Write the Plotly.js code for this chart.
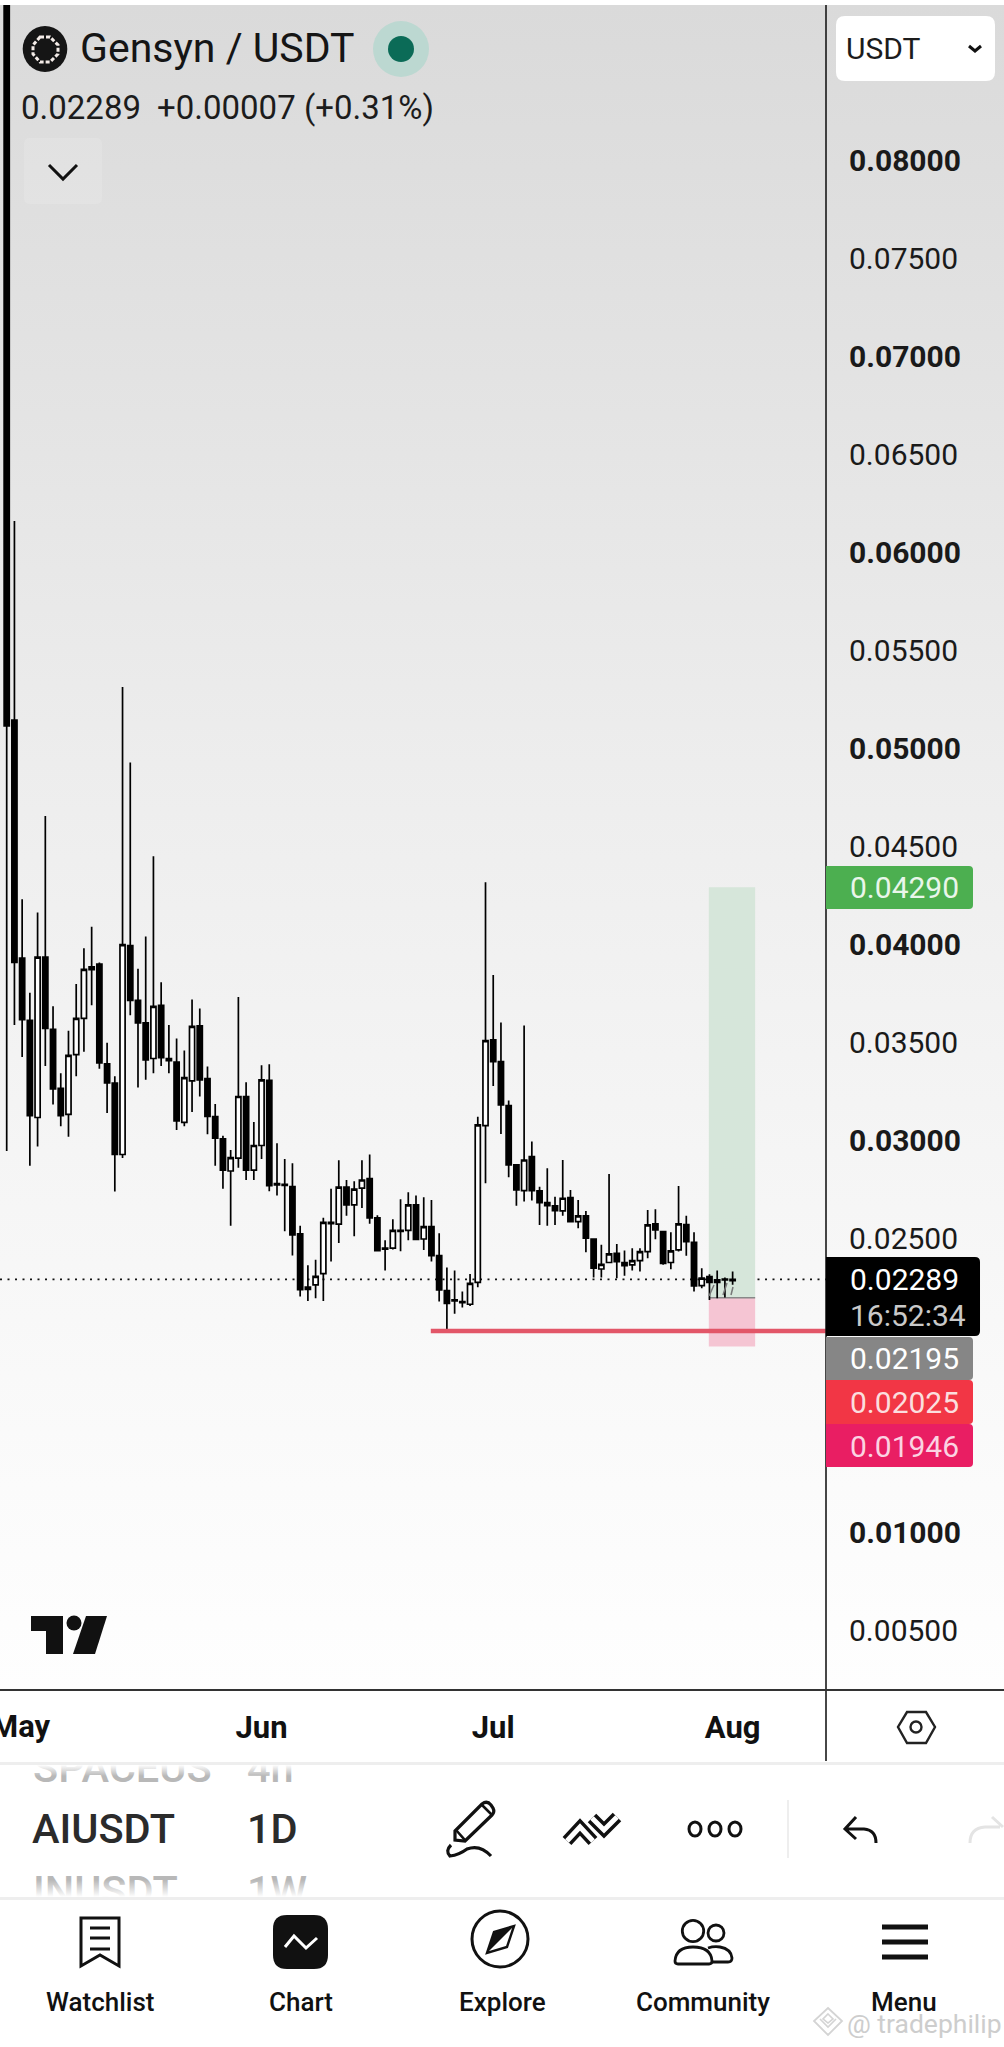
<!DOCTYPE html>
<html><head><meta charset="utf-8">
<script src="https://cdn.plot.ly/plotly-3.0.0.min.js"></script>
<style>
html,body{margin:0;padding:0;background:#fff;width:1004px;height:2047px;overflow:hidden}
#bg{position:absolute;left:0;top:5px;width:1004px;height:1685px;background:linear-gradient(to bottom,#dadada 0%,#e3e3e3 22%,#ededed 45%,#f5f5f5 68%,#fbfbfb 88%,#fefefe 100%)}
#chart{position:absolute;left:0;top:0;width:1004px;height:2047px}
.fade{position:absolute;left:20px;width:320px}
</style></head><body>
<div id="bg"></div>
<div id="chart"></div>
<div class="fade" style="top:1748px;height:28px;background:linear-gradient(to bottom,#fff 0%,#fff 60%,rgba(255,255,255,0) 100%)"></div>
<div class="fade" style="top:1880px;height:17px;background:linear-gradient(to top,#fff 0%,rgba(255,255,255,0) 100%)"></div>
<div class="fade" style="top:1897px;height:12px;background:#fff"></div>
<div style="position:absolute;left:0;top:1762px;width:1004px;height:3px;background:#eeeeee"></div>
<div style="position:absolute;left:0;top:1897px;width:1004px;height:3px;background:#eeeeee"></div>
<script>
var dates=["2025-04-29","2025-04-30","2025-05-01","2025-05-02","2025-05-03","2025-05-04","2025-05-05","2025-05-06","2025-05-07","2025-05-08","2025-05-09","2025-05-10","2025-05-11","2025-05-12","2025-05-13","2025-05-14","2025-05-15","2025-05-16","2025-05-17","2025-05-18","2025-05-19","2025-05-20","2025-05-21","2025-05-22","2025-05-23","2025-05-24","2025-05-25","2025-05-26","2025-05-27","2025-05-28","2025-05-29","2025-05-30","2025-05-31","2025-06-01","2025-06-02","2025-06-03","2025-06-04","2025-06-05","2025-06-06","2025-06-07","2025-06-08","2025-06-09","2025-06-10","2025-06-11","2025-06-12","2025-06-13","2025-06-14","2025-06-15","2025-06-16","2025-06-17","2025-06-18","2025-06-19","2025-06-20","2025-06-21","2025-06-22","2025-06-23","2025-06-24","2025-06-25","2025-06-26","2025-06-27","2025-06-28","2025-06-29","2025-06-30","2025-07-01","2025-07-02","2025-07-03","2025-07-04","2025-07-05","2025-07-06","2025-07-07","2025-07-08","2025-07-09","2025-07-10","2025-07-11","2025-07-12","2025-07-13","2025-07-14","2025-07-15","2025-07-16","2025-07-17","2025-07-18","2025-07-19","2025-07-20","2025-07-21","2025-07-22","2025-07-23","2025-07-24","2025-07-25","2025-07-26","2025-07-27","2025-07-28","2025-07-29","2025-07-30","2025-07-31","2025-08-01"];
var opens=[.09,.05142,.03928,.0361,.03115,.03933,.03564,.03263,.03131,.03436,.03621,.03869,.03897,.03389,.03291,.02926,.03992,.03712,.03598,.03416,.03687,.03416,.03398,.0309,.03302,.03582,.03313,.0312,.03006,.02842,.02908,.03222,.02846,.02972,.03304,.02778,.02774,.02762,.02521,.02238,.02261,.02318,.0258,.02571,.0276,.02669,.02755,.02803,.02603,.02448,.02448,.02534,.02539,.02669,.02495,.02558,.0241,.02232,.02184,.02176,.02162,.02274,.03073,.03511,.034,.03176,.02873,.02742,.02915,.0274,.02681,.02664,.02638,.02706,.02584,.02613,.02494,.02342,.02375,.02422,.02375,.02363,.02385,.02431,.02572,.02533,.02375,.02439,.02568,.02478,.02257,.02303,.02286,.02291,.02282];
var highs=[.095,.06158,.04229,.03751,.04161,.04653,.03682,.03341,.03557,.03796,.03978,.04088,.03906,.03496,.03325,.05311,.04926,.03874,.04038,.04448,.03805,.03587,.03518,.03457,.03717,.03671,.03375,.03184,.03022,.02949,.0373,.03295,.03092,.03382,.03386,.02983,.02903,.02881,.02562,.02361,.02389,.02603,.02751,.02897,.02796,.0279,.02897,.02926,.02616,.02489,.02596,.02698,.02733,.02717,.02708,.02694,.02524,.02349,.02334,.02227,.02317,.03119,.04315,.03842,.03599,.03201,.02873,.03584,.02992,.02762,.02856,.02711,.02898,.02745,.02694,.02638,.02499,.02465,.02827,.0247,.02436,.02448,.02448,.02643,.02647,.02533,.02529,.02766,.02613,.02529,.02346,.02315,.02334,.02298,.02329];
var lows=[.02944,.03587,.03423,.02869,.02967,.03377,.03181,.0307,.03017,.03325,.0345,.03687,.03364,.03138,.02737,.02908,.03637,.03268,.03307,.03341,.03377,.03341,.03051,.0307,.03143,.03222,.03029,.02869,.02751,.02562,.02858,.02796,.02796,.02903,.02739,.02717,.02534,.02411,.02202,.02179,.02193,.02179,.0238,.02475,.02614,.02509,.02653,.02573,.02432,.02334,.02441,.02432,.02489,.02489,.02439,.0238,.02176,.02031,.02113,.02145,.02153,.02249,.02779,.03276,.03031,.0281,.02665,.02686,.02691,.02567,.02563,.02567,.02614,.0258,.0255,.02427,.02298,.02298,.02371,.02295,.02307,.02334,.02329,.02397,.02494,.02363,.02341,.02431,.0241,.02227,.02244,.02184,.02193,.02196,.02261];
var closes=[.05113,.03906,.03614,.03124,.03933,.03569,.03261,.03124,.03432,.03621,.03871,.03883,.03393,.03291,.02926,.03997,.03712,.03598,.03409,.03682,.0342,.03405,.03097,.03318,.0358,.03307,.0312,.0301,.02846,.0291,.03222,.02846,.02972,.03307,.02767,.02771,.02769,.02516,.02236,.0225,.02304,.0258,.02573,.0276,.02669,.02749,.02796,.02603,.02436,.02443,.02539,.02539,.02669,.02493,.02558,.0241,.02235,.02167,.02179,.0217,.02269,.03077,.03507,.034,.03179,.02873,.02745,.02898,.02742,.02681,.02665,.0264,.02703,.02584,.02613,.02499,.02346,.02366,.02419,.0238,.02359,.02385,.02431,.02567,.02541,.02371,.02434,.02572,.02482,.02256,.02295,.02274,.02273,.02286,.02289];
var priceTicks=[.08,.075,.07,.065,.06,.055,.05,.045,.04,.035,.03,.025,.01,.005];
var priceTickText=["<b>0.08000</b>","0.07500","<b>0.07000</b>","0.06500","<b>0.06000</b>","0.05500","<b>0.05000</b>","0.04500","<b>0.04000</b>","0.03500","<b>0.03000</b>","0.02500","<b>0.01000</b>","0.00500"];
var monthTicks=["2025-06-01","2025-07-01","2025-08-01"];
var monthText=["Jun","Jul","Aug"];
var lastPrice=0.02289, targetPrice=0.0429, entryPrice=0.02195, supportPrice=0.02025, stopPrice=0.01946;

var W=1004,H=2047,FONT="Roboto, sans-serif",PLOT_R=826,PLOT_B=1690;
function fx(x){return x/W} function fy(y){return 1-y/H}
function pth(d){return d.replace(/(-?[\d.]+),(-?[\d.]+)/g,function(m,a,b){return fx(+a).toFixed(5)+","+fy(+b).toFixed(5)})}
var shapes=[],ann=[];
function P(d,o){o=o||{};shapes.push({type:"path",xref:"paper",yref:"paper",path:pth(d),fillcolor:o.fill||"rgba(0,0,0,0)",line:{color:o.stroke||"rgba(0,0,0,0)",width:o.w||0,dash:o.dash||"solid"},layer:o.layer||"above"})}
function C(cx,cy,rx,ry,o){o=o||{};shapes.push({type:"circle",xref:"paper",yref:"paper",x0:fx(cx-rx),x1:fx(cx+rx),y0:fy(cy-ry),y1:fy(cy+ry),fillcolor:o.fill||"rgba(0,0,0,0)",line:{color:o.stroke||"rgba(0,0,0,0)",width:o.w||0}})}
function RR(x0,y0,x1,y1,r,o,rl){var a=rl===0?0:r;P("M"+(x0+a)+","+y0+" L"+(x1-r)+","+y0+" Q"+x1+","+y0+" "+x1+","+(y0+r)+" L"+x1+","+(y1-r)+" Q"+x1+","+y1+" "+(x1-r)+","+y1+" L"+(x0+a)+","+y1+" Q"+x0+","+y1+" "+x0+","+(y1-a)+" L"+x0+","+(y0+a)+" Q"+x0+","+y0+" "+(x0+a)+","+y0+" Z",o)}
function T(t,x,y,size,color,o){o=o||{};ann.push({text:t,xref:"paper",yref:"paper",x:fx(x),y:fy(y),xanchor:o.anchor||"left",yanchor:"middle",showarrow:false,font:{family:FONT,size:size,color:color,weight:o.weight||400},borderpad:0})}
var RED="#e25668";
// position tool and levels, tied to the price scale
var toolStart="2025-07-28 22:00",toolEnd="2025-08-03 22:00";
shapes.push({type:"rect",xref:"x",yref:"y",x0:toolStart,x1:toolEnd,y0:entryPrice,y1:targetPrice,fillcolor:"#d6e6da",line:{width:0},layer:"below"});
shapes.push({type:"rect",xref:"x",yref:"y",x0:toolStart,x1:toolEnd,y0:stopPrice,y1:entryPrice,fillcolor:"#f5c5d3",line:{width:0},layer:"below"});
shapes.push({type:"line",xref:"x",yref:"y",x0:toolStart,x1:toolEnd,y0:entryPrice,y1:entryPrice,line:{color:"#888888",width:1.5},layer:"below"});
shapes.push({type:"line",xref:"paper",yref:"y",x0:0,x1:fx(PLOT_R),y0:lastPrice,y1:lastPrice,line:{color:"#111111",width:1.6,dash:"2px,5.5px"},layer:"below"});
shapes.push({type:"line",xref:"x",yref:"y",x0:"2025-06-22 22:00",x1:"2025-08-13 03:00",y0:supportPrice,y1:supportPrice,line:{color:RED,width:4.5},layer:"above"});
// small grey marks under the last candles
P("M709,1296 L714,1285 M723,1295 L727,1283 M731,1295 L733,1287",{stroke:"#777777",w:1.5});
// axes chrome
P("M"+PLOT_R+",5 L"+PLOT_R+",1761",{stroke:"#1a1a1a",w:1.6});
P("M0,"+PLOT_B+" L1004,"+PLOT_B,{stroke:"#333333",w:2});
// header
C(45,49,22.3,23,{fill:"#151515"});
P("M40,37 L50,37 L58,45 L58,54 L50,62 L40,62 L33,54 L33,45 Z",{stroke:"#f4ece8",w:3,dash:"4px,2px"});
T("Gensyn / USDT",79,48,41,"#151515");
C(401,49,28,28,{fill:"#bcd8d1"});C(401,49,13,13,{fill:"#0b6b57"});
T("0.02289",20,107,33,"#1c1c1c");T("+0.00007 (+0.31%)",156,107,33,"#1c1c1c");
RR(24,138,102,204,6,{fill:"rgba(255,255,255,0.13)"});
P("M49,165 L63,179 L77,165",{stroke:"#111",w:3});
RR(836,16,995,81,9,{fill:"#ffffff"});
T("USDT",845,48,30,"#1c1c1c");
P("M969,46 L975,51 L981,46",{stroke:"#111",w:3});
// price tags
var tx=848.5;
RR(826,866,973,909,4,{fill:"#4caf50"},0);T("0.04290",tx,887,30,"#e9f6ea");
RR(826,1257,980,1336,5,{fill:"#000000"},0);T("0.02289",tx,1279,30,"#ffffff");T("16:52:34",tx,1315,30,"#c9c9c9");
RR(826,1337,973,1380,4,{fill:"#868686"},0);T("0.02195",tx,1358,30,"#ffffff");
RR(826,1380,973,1424,4,{fill:"#f23645"},0);T("0.02025",tx,1402,30,"#fbdede");
RR(826,1424,973,1467,4,{fill:"#e91e63"},0);T("0.01946",tx,1446,30,"#fbd3e2");
// TradingView logo
P("M31,1616 L63,1616 L63,1654 L46,1654 L46,1631 L31,1631 Z",{fill:"#111"});
C(74,1623,7.5,7.5,{fill:"#111"});
P("M86,1616 L107,1616 L95,1654 L73,1654 Z",{fill:"#111"});
// settings hexagon
P("M907,1712 L926,1712 L935,1727 L926,1743 L907,1743 L898,1727 Z",{stroke:"#222",w:2.4});
C(916,1727,5.5,5.5,{stroke:"#222",w:2.4});
// May sits on the left edge
T("<b>May</b>",21,1726,31,"#111",{anchor:"center"});
// symbol wheel
T("SPACEUS",32,1767,41.5,"#b8b8b8",{weight:500});T("4h",246,1767,41.5,"#b8b8b8",{weight:500});
T("AIUSDT",31,1828,41.5,"#2b2b2b",{weight:500});T("1D",246,1828,41.5,"#2b2b2b",{weight:500});
T("INUSDT",32,1890,41.5,"#b8b8b8",{weight:500});T("1W",246,1890,41.5,"#b8b8b8",{weight:500});
// toolbar icons
P("M455,1840 L455,1831 L482,1804 Q487,1800 491,1805 L493,1808 Q495,1812 492,1815 L465,1841 Z",{stroke:"#111",w:3.2});
P("M482,1805 L492,1815 M456,1830 L465,1840",{stroke:"#111",w:2.6});
P("M451,1845 Q445,1851 450,1856 Q459,1855 467,1849 Q480,1844 491,1856",{stroke:"#111",w:3.2});
P("M567,1841 L580,1827 L593,1841",{stroke:"#111",w:12});
P("M592,1818 L604,1830 L617,1817",{stroke:"#111",w:12});
P("M567,1841 L580,1827 L593,1841",{stroke:"#fff",w:5});
P("M592,1818 L604,1830 L617,1817",{stroke:"#fff",w:5});
C(695,1829,6,7,{stroke:"#111",w:3});C(715,1829,6,7,{stroke:"#111",w:3});C(735,1829,6,7,{stroke:"#111",w:3});
P("M788,1800 L788,1858",{stroke:"#eeeeee",w:2});
P("M856,1817 L845,1829 L856,1839 M846,1829 L864,1829 Q876,1830 876,1843",{stroke:"#111",w:3});
P("M970,1843 Q970,1828 985,1827 L1000,1827 M992,1817 L1003,1827",{stroke:"#e4e4e4",w:3});
// bottom nav icons
P("M81,1918 L119,1918 L119,1966 L100,1955 L81,1966 Z",{stroke:"#111",w:3});
P("M90,1928 L110,1928 M90,1938 L110,1938 M90,1949 L110,1949",{stroke:"#111",w:3});
RR(273,1915,328,1969,14,{fill:"#111111"});
P("M285,1947 L294,1936 L306,1948 L317,1938",{stroke:"#fff",w:3});
C(500,1939,28,28,{stroke:"#111",w:3});
P("M514,1926 L507,1947 L487,1953 L494,1932 Z",{stroke:"#111",w:2.4});
P("M514,1926 L487,1953 L494,1932 Z",{fill:"#111"});
C(693,1931,10.7,10.7,{stroke:"#111",w:2.8});C(716,1933,8,8,{stroke:"#111",w:2.8});
P("M708,1948 Q714,1946 720,1947 Q731,1949 732,1958 Q732,1962 728,1962 L712,1962",{stroke:"#111",w:2.8});
P("M678,1964 Q675,1964 675,1961 Q676,1947 693,1947 Q711,1947 712,1961 Q712,1964 709,1964 Z",{stroke:"#111",w:2.8,fill:"#fff"});
P("M882,1927 L928,1927 M882,1942 L928,1942 M882,1957 L928,1957",{stroke:"#111",w:5});
// nav text
var navNames=["Watchlist","Chart","Explore","Community","Menu"],navX=[100,301,502,703,904];
navNames.forEach(function(n,i){T(n,navX[i],2002,26,"#111111",{anchor:"center",weight:500})});
// watermark
P("M828,2008 L842,2021 L828,2035 L814,2021 Z",{stroke:"#d4d4d4",w:1.8});
P("M820,2019 L828,2027 L836,2019 M828,2014 L833,2019 L828,2023 L823,2019 Z",{stroke:"#d4d4d4",w:1.6});
T("@ tradephilip",846,2023,26.5,"#cdcdcd");

var trace={type:"candlestick",x:dates,open:opens,high:highs,low:lows,close:closes,
 increasing:{line:{color:"#000000",width:1.7},fillcolor:"#ffffff"},
 decreasing:{line:{color:"#000000",width:1.7},fillcolor:"#000000"},
 whiskerwidth:0,hoverinfo:"skip"};
var layout={width:W,height:H,margin:{l:0,r:0,t:0,b:0,pad:0},paper_bgcolor:"rgba(0,0,0,0)",plot_bgcolor:"rgba(0,0,0,0)",showlegend:false,hovermode:false,boxgap:0.05,
 font:{family:FONT,color:"#141414"},
 xaxis:{domain:[0,fx(PLOT_R)],type:"date",range:["2025-04-28 03:10","2025-08-13 02:10"],rangeslider:{visible:false},showgrid:false,zeroline:false,showline:false,ticks:"",tickmode:"array",tickvals:monthTicks,ticktext:monthText.map(function(m){return "<b>"+m+"</b>"}),tickfont:{family:FONT,size:31,color:"#111"},ticklabelstandoff:16,fixedrange:true},
 yaxis:{domain:[fy(PLOT_B),fy(5)],side:"right",range:[0.001939,0.08791],showgrid:false,zeroline:false,showline:false,ticks:"",tickmode:"array",tickvals:priceTicks,ticktext:priceTickText,tickfont:{family:FONT,size:30,color:"#1a1a1a"},ticklabelstandoff:22,fixedrange:true},
 shapes:shapes,annotations:ann};
Plotly.newPlot("chart",[trace],layout,{displayModeBar:false,staticPlot:true});
</script>
</body></html>
